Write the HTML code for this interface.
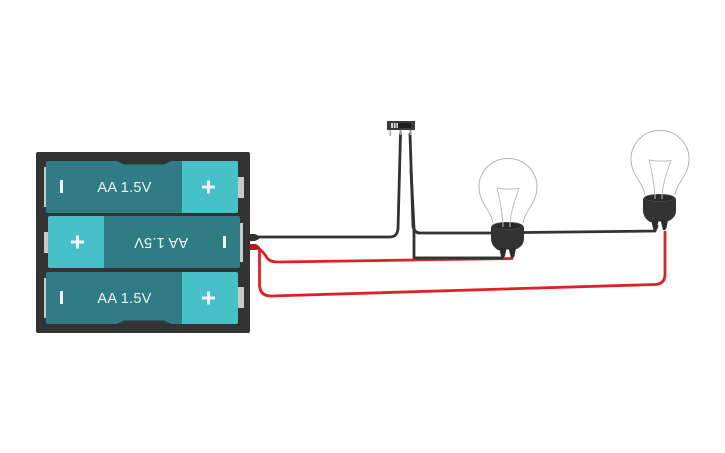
<!DOCTYPE html>
<html>
<head>
<meta charset="utf-8">
<style>
html,body{margin:0;padding:0;background:#fff;width:725px;height:453px;overflow:hidden}
svg{display:block}
text{font-family:"Liberation Sans",sans-serif;fill:#eef4f4;letter-spacing:.25px}
</style>
</head>
<body>
<svg width="725" height="453" viewBox="0 0 725 453" xmlns="http://www.w3.org/2000/svg">
<defs>
<g id="bulb">
  <path d="M493 223 C491 210 479 203 479 187 C479 171 492 158.500 508 158.500 C524 158.500 537 171 537 187 C537 203 525 210 523 223" fill="#fff" stroke="#b5b5b5" stroke-width="1"/>
  <path d="M503 224 C502 210 500 200 497 188 Q508 190 519 188.500 C515 200 511 210 510 224" fill="none" stroke="#bdbdbd" stroke-width="1"/>
  <path d="M491 228 C491 224 497 222 507.500 222 C518 222 524 224 524 228 L524 238 C524 245 520 247 517 249 L498 250 C495 248 491 245 491 238 Z" fill="#333"/>
  <ellipse cx="507.500" cy="226" rx="14.500" ry="3.500" fill="#2a2a2a" stroke="#555" stroke-width=".5"/>
  <path d="M503 227 V222 M510 227 V222" stroke="#c4c4c4" stroke-width="1" fill="none"/>
  <path d="M499 248 H506.500 L505 256 L503.500 258 H501.500 Z M508.500 248 H516 L514.500 256 L513 258 H511 Z" fill="#2c2c2c"/>
</g>
</defs>

<!-- wires black -->
<g fill="none" stroke="#333" stroke-width="2.800" stroke-linecap="round">
  <path d="M258 237 H390 Q397 237 398 229 L400.500 134"/>
  <path d="M410 134 L413 226 Q414 233 420 233 L492 233"/>
  <path d="M524 232.500 L655 231 L657 226"/>
  <path d="M411 170 L414 228 L414 258 H503"/>
</g>
<!-- wires red -->
<g fill="none" stroke="#df2027" stroke-width="2.800" stroke-linecap="round">
  <path d="M258 248 Q264 252 267 258 Q270 262 278 262 L414 260"/>
  <path d="M414 259.800 L512 258.500"/>
  <path d="M259.500 250 L259.500 285 Q260 296 271 296 L655 284.500 Q665 284 665 274 L665 232"/>
</g>
<path d="M414 258 H503" fill="none" stroke="#333" stroke-width="2.800"/>

<!-- battery holder -->
<rect x="36" y="152" width="214" height="181" rx="2" fill="#333"/>
<rect x="44" y="167" width="3" height="40" fill="#c9c9c9"/>
<rect x="238" y="177" width="6" height="21" fill="#c9c9c9"/>
<rect x="44" y="232" width="4" height="21" fill="#c9c9c9"/>
<rect x="240" y="223" width="3" height="39" fill="#c9c9c9"/>
<rect x="44" y="278" width="3" height="40" fill="#c9c9c9"/>
<rect x="238" y="287" width="6" height="21" fill="#c9c9c9"/>

<!-- batteries -->
<path d="M48 161 H117 L124 164.500 H164 L171 161 H236 Q238 161 238 163 V211 Q238 213 236 213 H48 Q46 213 46 211 V163 Q46 161 48 161 Z" fill="#2f7c84"/>
<path d="M182 161 H236 Q238 161 238 163 V211 Q238 213 236 213 H182 Z" fill="#46c1c7"/>
<rect x="48" y="216" width="192" height="52" rx="2" fill="#2f7c84"/>
<path d="M50 216 H104 V268 H50 Q48 268 48 266 V218 Q48 216 50 216 Z" fill="#46c1c7"/>
<path d="M48 272 H236 Q238 272 238 274 V322 Q238 324 236 324 H171 L164 320.500 H124 L117 324 H48 Q46 324 46 322 V274 Q46 272 48 272 Z" fill="#2f7c84"/>
<path d="M182 272 H236 Q238 272 238 274 V322 Q238 324 236 324 H182 Z" fill="#46c1c7"/>

<!-- symbols -->
<g fill="#eef4f4">
  <rect x="60" y="180" width="3" height="13"/>
  <rect x="60" y="291" width="3" height="13"/>
  <rect x="223" y="236" width="3" height="12"/>
  <rect x="202" y="185.500" width="13" height="3"/>
  <rect x="207" y="180.500" width="3" height="13"/>
  <rect x="202" y="296.500" width="13" height="3"/>
  <rect x="207" y="291.500" width="3" height="13"/>
  <rect x="71" y="240.500" width="13" height="3"/>
  <rect x="76" y="235.500" width="3" height="13"/>
</g>
<text x="124.500" y="192" font-size="14.500" text-anchor="middle">AA 1.5V</text>
<text x="124.500" y="303" font-size="14.500" text-anchor="middle">AA 1.5V</text>
<text transform="rotate(180 161 243)" x="161" y="248" font-size="14.500" text-anchor="middle">AA 1.5V</text>

<!-- connectors -->
<path d="M250 234 H255 L259 236 V239 L255 241 H250 Z" fill="#333"/>
<path d="M250 244 H256 L260 247 V249 L256 250 H250 Z" fill="#b01c22"/>

<!-- switch -->
<rect x="387" y="121" width="28" height="9" fill="#3a3a3a"/>
<rect x="391" y="123" width="7" height="5" fill="#d0d0d0"/>
<rect x="393" y="123" width="1" height="5" fill="#555"/>
<rect x="395.500" y="123" width="1" height="5" fill="#555"/>
<rect x="398" y="123" width="13" height="5" fill="#1d1d1d"/>
<rect x="389.500" y="130" width="1.500" height="6" fill="#aaa"/>
<rect x="399.500" y="130" width="2" height="5" fill="#999"/>
<rect x="409.500" y="130" width="2" height="5" fill="#999"/>

<!-- bulbs -->
<use href="#bulb"/>
<use href="#bulb" x="152" y="-28"/>
</svg>
</body>
</html>
